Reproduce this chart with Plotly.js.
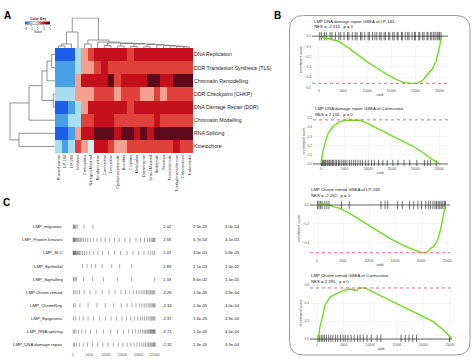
<!DOCTYPE html>
<html><head><meta charset="utf-8">
<script src="https://cdn.plot.ly/plotly-3.0.1.min.js"></script>
<style>html,body{margin:0;padding:0;background:#fff}#chart{width:474px;height:364px}</style>
</head><body><div id="chart"></div>
<script>
const W = 474, H = 364;
const FONT = "Liberation Sans, Arial, sans-serif";

// ---------- Panel A data ----------
const heatRows = ["DNA Replication","DDR Translesion Synthesis (TLS)","Chromatin Remodelling","DDR Checkpoint (CHKP)","DNA Damage Repair (DDR)","Chromatin Modelling","RNA Splicing","Kinetochore"];
const heatCols = ["Phenothiazine","LP-184","LP-284","Irofulven","Carboplatin","Nitrogen Mustard","Bendamustine","Carmustine","Lomustine","Cyclophosphamide","Busulfan","Cisplatin","Melphalan","Dacarbazine","Uracil Mustard","Ifosfamide","Thiotepa","Temozolomide","Triethylenemelamine","Chlorambucil","Trabectedin"];
const heatValues = [
  [-3,-3,-3,-1,1,2,3,3,3,3,3,2,3,3,3,3,3,3,3,3,3],
  [-2,-2,-2,-1,1,1,2,3,2,2,2,2,2,2,2,2,2,2,2,2,2],
  [-2,-2,-2,1,3,3,3,3,4,2,3,3,3,3,4,4,3,3,4,4,4],
  [-1,-1,-1,1,1,1,2,2,2,1,2,2,2,1,1,2,1,2,2,2,2],
  [-3,-3,-2,-1,1,3,3,3,3,3,3,2,3,3,3,3,3,3,3,3,3],
  [-2,-2,-1,-1,2,2,3,3,3,2,2,2,2,2,2,3,2,2,2,2,2],
  [-3,-3,-2,1,3,3,4,4,4,3,4,4,3,4,3,4,4,4,4,4,4],
  [-1,-2,-1,2,1,-0.4,3,3,2,1,1,2,2,2,2,2,2,2,3,2,2]
];
const keyValues = [-3,-2,-1,0,1,2,3,4,5];
const keyTicks = [-3,-1,1,3,5];
// dendrogram merges: [childA, childB, height]
const colMerges = [[0,1,2],[21,2,4],[22,3,16],[4,5,4],[19,20,1],[18,25,1.5],[17,26,2],[16,27,2.5],[15,28,3],[13,14,1.2],[30,29,3.5],[11,12,1.5],[32,31,4],[9,10,2],[34,33,4.5],[7,8,2.5],[36,35,5],[6,37,6],[24,38,8],[23,39,30]];
const rowMerges = [[0,1,3.3],[3,4,1.7],[8,2,8],[10,9,13],[11,5,26],[6,7,36],[12,13,45]];

// ---------- Panel B data ----------
const gseaTitles = ["LMP DNA damage repair GSEA of LP-184","LMP DNA damage repair GSEA of Carmustine","LMP Chrom remod GSEA of LP-184","LMP Chrom remod GSEA of Carmustine"];
const gseaStats = ["NES = -2.316,  p = 0","NES = 2.106,  p = 0","NES = -2.262,  p = 0","NES = 2.391,  p = 0"];
const gseaRank1 = [0,1200,2500,4000,6000,8000,10000,12000,14000,16000,17500,19000,20500,21500,22500,23500,24300,24900,25300,25500];
const gseaES1 = [0,-0.02,-0.03,-0.05,-0.11,-0.18,-0.25,-0.31,-0.37,-0.42,-0.45,-0.46,-0.46,-0.43,-0.38,-0.32,-0.24,-0.12,-0.03,0];
const gseaHits1 = [150,500,1100,1500,2300,2700,3400,4100,4500,5200,5900,6200,6900,7500,7900,8600,8900,9500,10200,10500,11100,11600,12000,12600,12900,13500,13800,14400,14700,15300,15600,16200,16400,17100,17300,17900,18400,18700,19300,19800,20000,20700,20900,21500,21800,22400,22600,23100,23400,23800,24100,24500,24700,25000,25300];
const gseaRank2 = [0,350,850,1550,2600,4000,5400,7200,8300,9700,11800,14600,17400,19600,21700,23500,24900];
const gseaES2 = [0,0.12,0.23,0.34,0.41,0.46,0.475,0.48,0.475,0.445,0.39,0.32,0.25,0.19,0.12,0.05,0.01];
const gseaHits2 = [80,250,400,600,800,1000,1300,1500,1800,2100,2400,2600,3000,3300,3700,4000,4400,4800,5100,5500,6000,6400,6900,7300,7800,8300,8800,9400,10000,10700,11300,12200,13100,14000,15200,16300,17600,18800,20300,21900,22600,23200,24400];
const gseaRank3 = [0,1200,2100,3100,4400,6300,8900,11500,14000,16600,18600,20200,21100,21800,22400,23100,23600,24000,24400,24700];
const gseaES3 = [0,0.01,0.007,-0.018,-0.036,-0.09,-0.18,-0.27,-0.357,-0.43,-0.48,-0.51,-0.505,-0.465,-0.445,-0.39,-0.30,-0.196,-0.09,0];
const gseaHits3 = [100,400,700,1000,1500,1900,2300,4700,6200,12300,13100,13600,15500,16400,17800,18600,19400,20100,20900,21400,21800,22300,22700,23000,23300,23600,23900,24200,24500,24700];
const gseaRank4 = [250,560,1190,1500,2440,3700,4950,6200,7460,7770,9020,10590,13720,16850,19360,21860,23740,25320];
const gseaES4 = [0,0.138,0.284,0.375,0.465,0.50,0.54,0.556,0.54,0.567,0.567,0.52,0.43,0.34,0.265,0.193,0.10,0.01];
const gseaHits4 = [200,500,800,1100,1400,1800,2200,2600,3000,3500,3900,4400,4900,5300,5800,6400,7000,7600,8100,8700,9400,10200,11300,12000,15800,16600,17300,18000,18700,24900];
const rankTicks = [0,5000,10000,15000,20000,25000];

// ---------- Panel C data ----------
const pathways = ["LMP_migration","LMP_Protein kinases","LMP_SLC","LMP_Epithelial","LMP_Signalling","LMP Chrom remod","LMP_ChromReg","LMP_Epigenetic","LMP_RNA splicing","LMP_DNA damage repair"];
const nesValues = [2.02,1.55,1.43,1.83,1.33,-2.26,-2.34,-2.37,-2.71,-2.32];
const pvalValues = [2.5e-5,6.7e-4,3.0e-3,2.1e-3,8.6e-2,1.5e-5,1.4e-5,1.6e-5,1.2e-5,1.3e-5];
const padjValues = [4.0e-4,4.1e-3,5.8e-3,1.0e-2,1.6e-1,4.9e-4,4.0e-4,4.9e-4,4.0e-4,4.9e-4];
const geneRanks = [
  [100,250,400,600,900,1300,3400,6100],
  [50,150,300,450,600,800,1000,1300,1600,1900,2300,2700,3200,3800,4500,5300,6200,7300,8500,9800,11200,12600,14100,15800,17400,19200,20600,21800,22700,23300,23800,24200,24500,24800,25000],
  [60,160,260,380,500,650,800,950,1150,1400,1700,2000,2400,2900,3500,4200,5100,6200,7600,9000,10800,12700,14500,16500,18300,20000,21600,22900,23700,24300,24800],
  [2900,4300,5600,6800,8900,11800,14200,17900],
  [120,350,700,1100,3200,5900,9300,13600,17800,24900],
  [150,600,1200,2000,3400,5200,7000,8900,11000,12800,14600,16000,17300,18400,19300,20100,20800,21400,21900,22400,22800,23200,23600,24000,24300,24600,24900],
  [200,700,2100,4600,7300,9800,12400,14700,16500,18000,19200,20200,21000,21700,22300,22900,23400,23800,24200,24500,24800,25000],
  [150,800,1900,3100,4600,6300,8100,9900,11600,13300,14900,16300,17600,18700,19700,20500,21200,21800,22400,22900,23400,23800,24100,24400,24700,24950],
  [100,400,900,1700,2700,3900,5400,7200,9300,11500,13600,15400,16900,18100,19100,19900,20600,21200,21700,22100,22500,22800,23100,23400,23600,23800,24000,24200,24400,24550,24700,24850,25000],
  [150,500,1100,2000,3100,4400,5900,7500,9100,10700,12300,13800,15200,16500,17600,18600,19500,20300,21000,21600,22100,22600,23000,23400,23700,24000,24300,24500,24700,24900,25050]
];

// ---------- helpers ----------
const px = x => x / W, py = y => 1 - y / H;
const dX = (a, b) => [a / W, b / W];
const dY = (t, b) => [1 - b / H, 1 - t / H];
function ann(text, x, y, o) {
  o = o || {};
  return {text, x: px(x), y: py(y), xref: 'paper', yref: 'paper', showarrow: false,
    xanchor: o.xa || 'center', yanchor: 'middle', font: {family: FONT, size: o.size || 4.5, color: o.color || '#222'}};
}
function dendro(merges, n) {
  const pos = [], ht = [], p = [], h = [];
  for (let i = 0; i < n; i++) { pos[i] = i; ht[i] = 0; }
  merges.forEach((m, k) => {
    const [a, b, hh] = m, id = n + k;
    p.push(pos[a], pos[a], pos[b], pos[b], null);
    h.push(ht[a], hh, hh, ht[b], null);
    pos[id] = (pos[a] + pos[b]) / 2; ht[id] = hh;
  });
  return {p, h};
}
function fmtE(v) {
  const [m, e] = v.toExponential(1).split('e');
  const n = parseInt(e, 10);
  return m + 'e' + (n < 0 ? '-' : '+') + String(Math.abs(n)).padStart(2, '0');
}
function roundRect(x0, y0, x1, y1, r) {
  const P = (x, y) => px(x) + ',' + py(y);
  return 'M' + P(x0 + r, y0) + ' L' + P(x1 - r, y0) + ' Q' + P(x1, y0) + ' ' + P(x1, y0 + r) +
    ' L' + P(x1, y1 - r) + ' Q' + P(x1, y1) + ' ' + P(x1 - r, y1) +
    ' L' + P(x0 + r, y1) + ' Q' + P(x0, y1) + ' ' + P(x0, y1 - r) +
    ' L' + P(x0, y0 + r) + ' Q' + P(x0, y0) + ' ' + P(x0 + r, y0) + ' Z';
}

const colorscale = [[0,'#1c5fe6'],[1/8,'#4aa0e6'],[2/8,'#a8dcef'],[3/8,'#eef7fb'],[4/8,'#f4a08e'],[5/8,'#e0413a'],[6/8,'#c3101c'],[7/8,'#5e0a1a'],[1,'#3a0008']];

const traces = [];
const layout = {
  width: W, height: H, margin: {l: 0, r: 0, t: 0, b: 0}, showlegend: false,
  paper_bgcolor: '#fff', plot_bgcolor: 'rgba(0,0,0,0)', font: {family: FONT},
  annotations: [], shapes: []
};

// heatmap
const hmX = dX(55, 193), hmY = dY(48, 153);
traces.push({type: 'heatmap', z: heatValues, x: heatCols, y: heatRows, colorscale, zmin: -3, zmax: 5,
  showscale: false, xaxis: 'x', yaxis: 'y', hoverinfo: 'skip'});
layout.xaxis = {domain: hmX, anchor: 'y', type: 'category', tickangle: -90, ticks: '', showgrid: false,
  tickfont: {size: 4, color: '#333', family: FONT}, automargin: false};
layout.yaxis = {domain: hmY, anchor: 'x', type: 'category', autorange: 'reversed', side: 'right', ticks: '',
  showgrid: false, tickfont: {size: 5.2, color: '#222', family: FONT}, automargin: false};

// row dendrogram
const rd = dendro(rowMerges, heatRows.length);
traces.push({type: 'scatter', mode: 'lines', x: rd.h, y: rd.p, xaxis: 'x2', yaxis: 'y2',
  line: {color: '#666', width: 0.7}, hoverinfo: 'skip'});
layout.xaxis2 = {domain: dX(9, 55), anchor: 'y2', range: [46, 0], visible: false};
layout.yaxis2 = {domain: hmY, anchor: 'x2', range: [heatRows.length - 0.5, -0.5], visible: false};

// column dendrogram
const cd = dendro(colMerges, heatCols.length);
traces.push({type: 'scatter', mode: 'lines', x: cd.p, y: cd.h, xaxis: 'x3', yaxis: 'y3',
  line: {color: '#666', width: 0.7}, hoverinfo: 'skip'});
layout.xaxis3 = {domain: hmX, anchor: 'y3', range: [-0.5, heatCols.length - 0.5], visible: false};
layout.yaxis3 = {domain: dY(17.5, 48), anchor: 'x3', range: [0, 30.5], visible: false};

// colour key
traces.push({type: 'heatmap', z: [keyValues], x: keyValues, y: [0], colorscale, zmin: -3, zmax: 5, zsmooth: 'best',
  showscale: false, xaxis: 'x4', yaxis: 'y4', hoverinfo: 'skip'});
layout.xaxis4 = {domain: dX(25, 50), anchor: 'y4', range: [-3, 5], tickvals: keyTicks, ticks: 'outside', ticklen: 1,
  tickwidth: 0.5, tickcolor: '#555', showgrid: false, zeroline: false, showline: true, linecolor: '#777', linewidth: 0.5, mirror: true,
  tickfont: {size: 3, color: '#333', family: FONT}};
layout.yaxis4 = {domain: dY(21.5, 24.5), anchor: 'x4', range: [-0.5, 0.5], visible: false};
layout.annotations.push(ann('<b>Color Key</b>', 37.5, 19, {size: 3.4}));
layout.annotations.push(ann('Value', 37.5, 31.5, {size: 3.2}));

// panel letters
layout.annotations.push(ann('<b>A</b>', 8, 16, {size: 10, color: '#000'}));
layout.annotations.push(ann('<b>B</b>', 277, 16, {size: 10, color: '#000'}));
layout.annotations.push(ann('<b>C</b>', 6, 202, {size: 10, color: '#000'}));

// panel B frame
layout.shapes.push({type: 'path', xref: 'paper', yref: 'paper', path: roundRect(289.5, 15.5, 470, 355, 14),
  line: {color: '#9a9a9a', width: 1}, fillcolor: 'rgba(0,0,0,0)'});

// GSEA plots
const gsea = [
  {rank: gseaRank1, es: gseaES1, hits: gseaHits1, xd: [312, 448], yd: [31, 88], xr: [-1450, 26760], yr: [-0.505, 0.05], dt: 0.1, ty: 21, sy: 27, tx: 312},
  {rank: gseaRank2, es: gseaES2, hits: gseaHits2, xd: [313, 448], yd: [116, 166], xr: [-1695, 26900], yr: [-0.022, 0.522], dt: 0.1, ty: 108, sy: 114, tx: 313},
  {rank: gseaRank3, es: gseaES3, hits: gseaHits3, xd: [310, 450], yd: [199, 258], xr: [-1346, 25577], yr: [-0.566, 0.064], dt: 0.2, ty: 189, sy: 195, tx: 309},
  {rank: gseaRank4, es: gseaES4, hits: gseaHits4, xd: [310, 452], yd: [284, 342], xr: [-1316, 25376], yr: [-0.033, 0.611], dt: 0.2, ty: 275, sy: 281, tx: 309}
];
gsea.forEach((g, i) => {
  const n = i + 5, xa = 'x' + n, ya = 'y' + n;
  const neg = Math.min(...g.es) < -Math.max(...g.es);
  const extreme = neg ? Math.min(...g.es) : Math.max(...g.es);
  layout.shapes.push({type: 'line', xref: xa + ' domain', yref: ya, x0: 0, x1: 1, y0: extreme, y1: extreme,
    line: {color: '#f0508a', width: 0.9, dash: 'dot'}});
  layout.shapes.push({type: 'line', xref: xa + ' domain', yref: ya, x0: 0, x1: 1, y0: 0, y1: 0,
    line: {color: '#222', width: 0.7}});
  traces.push({type: 'scatter', mode: 'markers', x: g.hits, y: g.hits.map(() => 0), xaxis: xa, yaxis: ya,
    marker: {symbol: 'line-ns-open', size: 6, color: '#111', line: {color: '#111', width: 0.6}}, hoverinfo: 'skip'});
  traces.push({type: 'scatter', mode: 'lines', x: g.rank, y: g.es, xaxis: xa, yaxis: ya,
    line: {color: '#6ee01e', width: 1.4}, hoverinfo: 'skip'});
  layout['xaxis' + n] = {domain: dX(g.xd[0], g.xd[1]), anchor: ya, range: g.xr, tickvals: rankTicks, tickformat: 'd', ticks: '',
    showgrid: true, gridcolor: '#efefef', gridwidth: 0.5, zeroline: false, showline: false,
    tickfont: {size: 3.3, color: '#555', family: FONT}, title: {text: 'rank', font: {size: 3.5, color: '#333', family: FONT}, standoff: 1}};
  layout['yaxis' + n] = {domain: dY(g.yd[0], g.yd[1]), anchor: xa, range: g.yr, dtick: g.dt, tick0: 0, tickformat: '.1f', ticks: '',
    showgrid: true, gridcolor: '#efefef', gridwidth: 0.5, zeroline: false, showline: false,
    tickfont: {size: 3.3, color: '#555', family: FONT}, title: {text: 'enrichment score', font: {size: 3.5, color: '#333', family: FONT}, standoff: 2}};
  layout.annotations.push(ann(gseaTitles[i], g.tx, g.ty, {xa: 'left', size: 4.3}));
  layout.annotations.push(ann(gseaStats[i], g.tx, g.sy, {xa: 'left', size: 4.3}));
});

// Panel C gene ranks
const grX = [], grY = [];
geneRanks.forEach((arr, r) => arr.forEach(v => { grX.push(v); grY.push(r); }));
traces.push({type: 'scatter', mode: 'markers', x: grX, y: grY, xaxis: 'x9', yaxis: 'y9',
  marker: {symbol: 'line-ns-open', size: 3, color: '#555', line: {color: '#555', width: 0.5}}, hoverinfo: 'skip'});
layout.xaxis9 = {domain: dX(71, 158), anchor: 'y9', range: [-600, 25900], tickvals: rankTicks, tickformat: 'd', ticks: '',
  showgrid: false, zeroline: false, showline: false, tickfont: {size: 3.3, color: '#555', family: FONT}};
layout.yaxis9 = {domain: dY(220.2, 351.2), anchor: 'x9', range: [pathways.length - 0.5, -0.5], visible: false};

function tann(text, x, row, xa, size) {
  return {text, x: px(x), y: row, xref: 'paper', yref: 'y9', showarrow: false, xanchor: xa, yanchor: 'middle',
    font: {family: FONT, size: size, color: '#222'}};
}
layout.annotations.push(tann('Pathway', 65, -1, 'right', 4.3));
layout.annotations.push(tann('Gene ranks', 114, -1, 'center', 4.3));
layout.annotations.push(tann('NES', 167, -1, 'center', 4.3));
layout.annotations.push(tann('pval', 200, -1, 'center', 4.3));
layout.annotations.push(tann('padj', 232, -1, 'center', 4.3));
pathways.forEach((p, r) => {
  layout.annotations.push(tann(p, 65, r, 'right', 4.3));
  layout.annotations.push(tann(nesValues[r].toFixed(2), 167, r, 'center', 4.2));
  layout.annotations.push(tann(fmtE(pvalValues[r]), 200, r, 'center', 4.2));
  layout.annotations.push(tann(fmtE(padjValues[r]), 232.5, r, 'center', 4.2));
});

Plotly.newPlot('chart', traces, layout, {staticPlot: true, displayModeBar: false});
</script></body></html>
